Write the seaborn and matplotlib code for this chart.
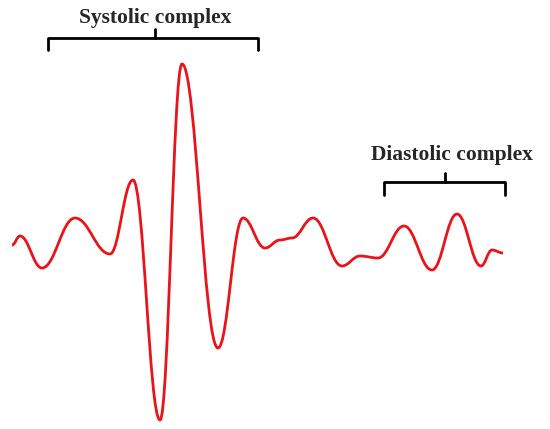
import matplotlib
matplotlib.use('Agg')
import matplotlib.pyplot as plt
from matplotlib.path import Path
from matplotlib.patches import PathPatch
import seaborn as sns

sns.set_style('white')

# extremes of the waveform (pixel coords, y down)
wave_x = [12, 20, 42, 75, 110, 133, 160, 182, 218, 243, 265, 280, 292, 313, 342, 360, 378, 404, 432, 457, 481, 492, 503]
wave_y = [245, 236, 268, 218, 254, 180, 420, 64, 348, 218, 248, 240, 238, 218, 266, 256, 258, 226, 270, 214, 266, 250, 253]

# braces: left, right, tip, top y, end-drop y
braces = [(48, 258, 155, 38, 50), (384, 505, 445, 182, 195)]
labels = [('Systolic complex', 155, 18), ('Diastolic complex', 452, 155)]

fig = plt.figure(figsize=(5.5, 4.29), dpi=100)
ax = fig.add_axes([0, 0, 1, 1])
ax.set_xlim(0, 550)
ax.set_ylim(429, 0)
ax.axis('off')

# smooth curve through the extremes with horizontal tangents
verts = [(wave_x[0], wave_y[0])]
codes = [Path.MOVETO]
for i in range(len(wave_x) - 1):
    x0, y0, x1, y1 = wave_x[i], wave_y[i], wave_x[i + 1], wave_y[i + 1]
    dx = x1 - x0
    verts += [(x0 + 0.4 * dx, y0), (x1 - 0.4 * dx, y1), (x1, y1)]
    codes += [Path.CURVE4] * 3
ax.add_patch(PathPatch(Path(verts, codes), fill=False, edgecolor='#e8141b', lw=2))

for left, right, tip, top, drop in braces:
    ax.plot([left, left, right, right], [drop, top, top, drop], color='black', lw=2, solid_joinstyle='round')
    ax.plot([tip, tip], [top, top - 9], color='black', lw=2)

for text, x, y in labels:
    ax.text(x, y, text, ha='center', va='center', fontsize=15.5, fontweight='bold',
            family=['Liberation Serif', 'DejaVu Serif'])

fig.savefig('out.png', dpi=100)
